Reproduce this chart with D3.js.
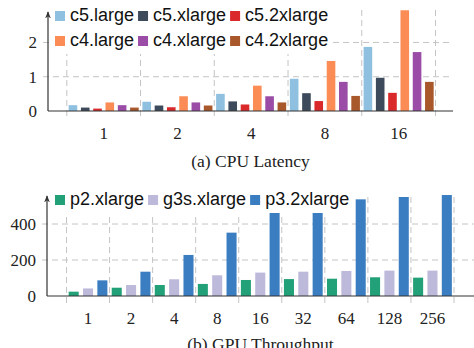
<!DOCTYPE html>
<html>
<head>
<meta charset="utf-8">
<script src="https://cdn.jsdelivr.net/npm/d3@7"></script>
<style>
  body { margin: 0; background: #fff; }
  svg { display: block; }
</style>
</head>
<body>
<div id="canvas"></div>
<script>
// CPU latency per instance type, grouped by batch size
var cpuGroups = ["1", "2", "4", "8", "16"];
var cpuSeries = ["c5.large", "c5.xlarge", "c5.2xlarge", "c4.large", "c4.xlarge", "c4.2xlarge"];
var cpuColors = ["#8fc0e0", "#3d4a5b", "#d9292a", "#fb8c55", "#9a4ca6", "#a8582a"];
var c5large   = [0.17, 0.27, 0.50, 0.94, 1.87];
var c5xlarge  = [0.10, 0.16, 0.28, 0.52, 0.97];
var c52xlarge = [0.07, 0.11, 0.19, 0.29, 0.53];
var c4large   = [0.25, 0.43, 0.74, 1.46, 2.94];
var c4xlarge  = [0.17, 0.25, 0.43, 0.85, 1.72];
var c42xlarge = [0.10, 0.16, 0.25, 0.44, 0.85];
var cpuTicks = [0, 1, 2];

// GPU throughput per instance type
var gpuGroups = ["1", "2", "4", "8", "16", "32", "64", "128", "256"];
var gpuSeries = ["p2.xlarge", "g3s.xlarge", "p3.2xlarge"];
var gpuColors = ["#22a077", "#bdb9db", "#3a7dc1"];
var p2xlarge  = [24, 46, 61, 67, 89, 94, 96, 104, 102];
var g3sxlarge = [42, 61, 93, 115, 130, 135, 139, 141, 141];
var p32xlarge = [87, 135, 228, 352, 472, 487, 537, 550, 561];
var gpuTicks = [0, 200, 400];

var W = 474, H = 348;
var serif = "'Liberation Serif', 'Times New Roman', serif";
var sans = "'Liberation Sans', Arial, sans-serif";
var gridColor = "#c4c4c4", axisColor = "#333";

var svg = d3.select("#canvas").append("svg")
    .attr("width", W).attr("height", H);

svg.append("defs").append("marker")
    .attr("id", "arrow")
    .attr("viewBox", "0 0 10 10")
    .attr("refX", 9).attr("refY", 5)
    .attr("markerWidth", 6).attr("markerHeight", 6)
    .attr("orient", "auto")
  .append("path")
    .attr("d", "M0,1 L10,5 L0,9 L3,5 Z")
    .attr("fill", axisColor);

// draws one grouped bar panel
function panel(opt) {
    var g = svg.append("g");

    var x = d3.scaleBand().domain(opt.groups).range(opt.bandRange);
    var xi = d3.scaleBand().domain(opt.series).range([0, x.bandwidth()])
        .paddingInner(0.3).paddingOuter(0.15);
    var y = d3.scaleLinear().domain(opt.yDomain).range([opt.base, opt.top]);

    // dashed grid, vertical lines sit between groups
    var bounds = opt.groups.map(function(d) { return x(d); })
        .concat([x(opt.groups[opt.groups.length - 1]) + x.bandwidth()]);
    g.selectAll("line.vgrid").data(bounds).enter().append("line")
        .attr("x1", function(d) { return d; }).attr("x2", function(d) { return d; })
        .attr("y1", opt.gridTop).attr("y2", opt.base + 8)
        .attr("stroke", gridColor).attr("stroke-width", 1)
        .attr("stroke-dasharray", "6,4");
    g.selectAll("line.hgrid").data(opt.ticks.slice(1)).enter().append("line")
        .attr("x1", opt.axisX - 5).attr("x2", opt.axisEnd)
        .attr("y1", function(d) { return y(d); }).attr("y2", function(d) { return y(d); })
        .attr("stroke", gridColor).attr("stroke-width", 1)
        .attr("stroke-dasharray", "6,4");

    // bars
    opt.series.forEach(function(s, si) {
        g.selectAll(null).data(opt.values[si]).enter().append("rect")
            .attr("x", function(d, i) { return x(opt.groups[i]) + xi(s); })
            .attr("width", xi.bandwidth())
            .attr("y", function(d) { return y(d); })
            .attr("height", function(d) { return y(0) - y(d); })
            .attr("fill", opt.colors[si]);
    });

    // axes
    g.append("line")
        .attr("x1", opt.axisX).attr("x2", opt.axisEnd)
        .attr("y1", opt.base).attr("y2", opt.base)
        .attr("stroke", axisColor).attr("stroke-width", 1.2);
    g.append("line")
        .attr("x1", opt.axisX).attr("x2", opt.axisX)
        .attr("y1", opt.base).attr("y2", opt.top - 1)
        .attr("stroke", axisColor).attr("stroke-width", 1.2)
        .attr("marker-end", "url(#arrow)");

    // tick labels
    g.selectAll("text.yt").data(opt.ticks).enter().append("text")
        .attr("x", opt.axisX - 11).attr("y", function(d) { return y(d) + 6; })
        .attr("text-anchor", "end")
        .style("font-family", serif).style("font-size", "17px").attr("fill", "#222")
        .text(function(d) { return d; });
    g.selectAll("text.xt").data(opt.groups).enter().append("text")
        .attr("x", function(d) { return x(d) + x.bandwidth() / 2; })
        .attr("y", opt.base + 28)
        .attr("text-anchor", "middle")
        .style("font-family", serif).style("font-size", "17px").attr("fill", "#222")
        .text(function(d) { return d; });

    // caption
    g.append("text")
        .attr("x", (opt.axisX + opt.axisEnd) / 2).attr("y", opt.captionY)
        .attr("text-anchor", "middle")
        .style("font-family", serif).style("font-size", "17.5px").attr("fill", "#222")
        .text(opt.caption);

    // legend, laid out as a table of columns
    var lg = g.append("g");
    var bg = lg.append("rect").attr("fill", "#fff");
    var items = [];
    opt.series.forEach(function(s, si) {
        var row = Math.floor(si / opt.legendCols), col = si % opt.legendCols;
        var t = lg.append("text")
            .style("font-family", sans).style("font-size", "18px").attr("fill", "#111")
            .attr("y", opt.legendY + row * 25)
            .text(s);
        items.push({ t: t, row: row, col: col, w: t.node().getComputedTextLength(), c: opt.colors[si] });
    });
    var colW = d3.range(opt.legendCols).map(function(c) {
        return d3.max(items.filter(function(d) { return d.col === c; }), function(d) { return d.w; });
    });
    var colX = [opt.legendX];
    colW.forEach(function(w, i) { colX.push(colX[i] + 15 + w + 4); });
    items.forEach(function(d) {
        var cx = colX[d.col];
        lg.append("rect")
            .attr("x", cx).attr("y", opt.legendY - 10 + d.row * 25)
            .attr("width", 10).attr("height", 10)
            .attr("fill", d.c);
        d.t.attr("x", cx + 15);
    });
    var rows = Math.ceil(opt.series.length / opt.legendCols);
    bg.attr("x", opt.legendX - 3).attr("y", opt.legendY - 16)
        .attr("width", colX[colX.length - 1] - opt.legendX + 2)
        .attr("height", rows * 25 - 1);
}

panel({
    groups: cpuGroups,
    series: cpuSeries,
    colors: cpuColors,
    values: [c5large, c5xlarge, c52xlarge, c4large, c4xlarge, c42xlarge],
    ticks: cpuTicks,
    yDomain: [0, 2.86],
    bandRange: [66.8, 435.5],
    base: 111, top: 13, gridTop: 10,
    axisX: 48, axisEnd: 453,
    caption: "(a) CPU Latency", captionY: 167,
    legendX: 55, legendY: 21, legendCols: 3
});

panel({
    groups: gpuGroups,
    series: gpuSeries,
    colors: gpuColors,
    values: [p2xlarge, g3sxlarge, p32xlarge],
    ticks: gpuTicks,
    yDomain: [0, 550],
    bandRange: [66.5, 454],
    base: 296, top: 197, gridTop: 197,
    axisX: 47, axisEnd: 474,
    caption: "(b) GPU Throughput", captionY: 350,
    legendX: 55, legendY: 205, legendCols: 3
});
</script>
</body>
</html>
